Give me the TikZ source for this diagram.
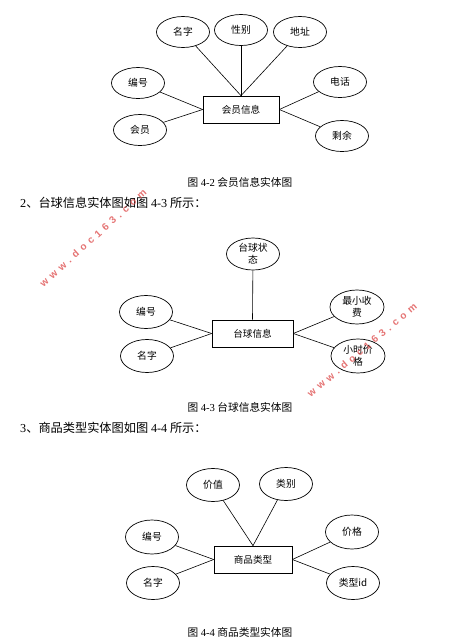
\documentclass[tikz,border=0pt]{standalone}
\usepackage{fontspec}
\setmainfont{Liberation Serif}
\newfontfamily\cjk{Noto Sans CJK SC}
\newfontfamily\wmfont[LetterSpace=43]{Liberation Sans}
\usetikzlibrary{shapes.geometric}
\definecolor{wmred}{RGB}{222,80,80}
\begin{document}
\begin{tikzpicture}[x=1pt,y=-1pt,
  attr/.style={ellipse,draw,line width=0.7pt,minimum width=53pt,minimum height=31pt,inner sep=0pt,font=\cjk\fontsize{9.8}{11.8}\selectfont,align=center},
  ent/.style={rectangle,draw,line width=0.7pt,minimum height=27pt,inner sep=0pt,font=\cjk\fontsize{9.6}{11}\selectfont},
  link/.style={line width=0.6pt},
  figcap/.style={font=\fontsize{10.7}{12}\selectfont,inner sep=0pt},
  para/.style={font=\fontsize{12.2}{14}\selectfont,inner sep=0pt,anchor=west},
  wm/.style={font=\wmfont\bfseries\fontsize{10}{12}\selectfont,text=wmred,opacity=0.8,inner sep=0pt}
]
\useasboundingbox (0,0) rectangle (474,643);

% ---------- Figure 4-2 ----------
\node[ent,minimum width=76pt] (e1) at (241,109.5) {会员信息};
\node[attr] (a1) at (183,32) {名字};
\node[attr] (a2) at (241,30) {性别};
\node[attr] (a3) at (300,32) {地址};
\node[attr] (a4) at (138,83) {编号};
\node[attr] (a5) at (140,130) {会员};
\node[attr] (a6) at (340,82) {电话};
\node[attr] (a7) at (342,136) {剩余};
\draw[link] (a1) -- (e1.north);
\draw[link] (a2) -- (e1.north);
\draw[link] (a3) -- (e1.north);
\draw[link] (a4) -- (e1.west);
\draw[link] (a5) -- (e1.west);
\draw[link] (a6) -- (e1.east);
\draw[link] (a7) -- (e1.east);
\node[figcap] (c1) at (240,182) {\cjk 图 {\rmfamily 4-2} 会员信息实体图};

% ---------- Text 2 ----------
\node[para] (p2) at (20,203) {2\cjk 、台球信息实体图如图 {\rmfamily 4-3} 所示：};

% ---------- Figure 4-3 ----------
\node[ent,minimum width=81pt] (e2) at (252.5,333.5) {台球信息};
\node[attr,minimum height=32pt] (b1) at (253,254) {台球状\\态};
\node[attr,minimum height=33pt] (b2) at (146,312) {编号};
\node[attr,minimum height=33pt] (b3) at (147,356) {名字};
\node[attr,minimum width=54pt,minimum height=34pt] (b4) at (357,307) {最小收\\费};
\node[attr,minimum width=54pt,minimum height=34pt] (b5) at (358,356) {小时价\\格};
\draw[link] (b1) -- (e2.north);
\draw[link] (b2) -- (e2.west);
\draw[link] (b3) -- (e2.west);
\draw[link] (b4) -- (e2.east);
\draw[link] (b5) -- (e2.east);
\node[figcap] (c2) at (240,407) {\cjk 图 {\rmfamily 4-3} 台球信息实体图};

% ---------- Text 3 ----------
\node[para] (p3) at (20,428) {3\cjk 、商品类型实体图如图 {\rmfamily 4-4} 所示：};

% ---------- Figure 4-4 ----------
\node[ent,minimum width=78pt] (e3) at (253,559.5) {商品类型};
\node[attr,minimum height=33pt] (d1) at (213,485) {价值};
\node[attr,minimum height=33pt] (d2) at (286,484) {类别};
\node[attr,minimum height=34pt] (d3) at (152,537) {编号};
\node[attr,minimum height=33pt] (d4) at (153,583) {名字};
\node[attr,minimum height=34pt] (d5) at (352,532) {价格};
\node[attr,minimum height=33pt] (d6) at (353,583) {类型id};
\draw[link] (d1) -- (e3.north);
\draw[link] (d2) -- (e3.north);
\draw[link] (d3) -- (e3.west);
\draw[link] (d4) -- (e3.west);
\draw[link] (d5) -- (e3.east);
\draw[link] (d6) -- (e3.east);
\node[figcap] (c3) at (240,632) {\cjk 图 {\rmfamily 4-4} 商品类型实体图};

% ---------- Watermarks ----------
\node[wm,rotate=42] (w1) at (93,238) {www.doc163.com};
\node[wm,rotate=40] (w2) at (362,350) {www.doc163.com};
\end{tikzpicture}
\end{document}
